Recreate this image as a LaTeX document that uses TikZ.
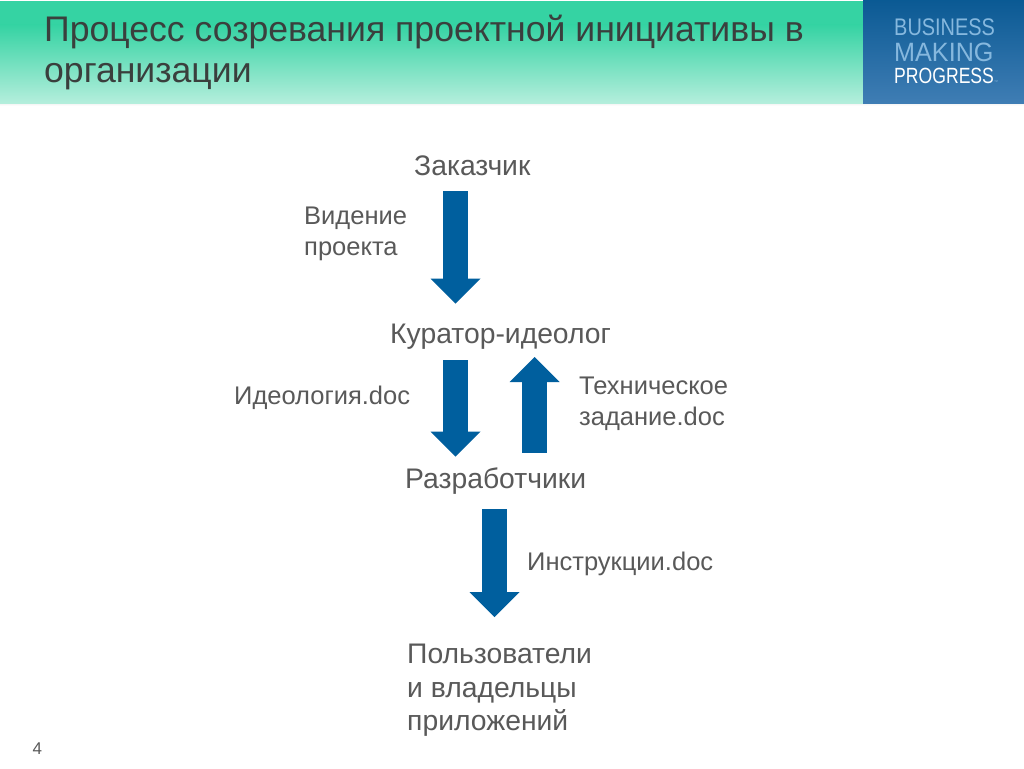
\documentclass[tikz,border=0pt]{standalone}
\usepackage{fontspec}
\setmainfont{Liberation Sans}
\usetikzlibrary{arrows.meta}
\definecolor{bodytext}{HTML}{595959}
\definecolor{titletext}{HTML}{3A3F3D}
\definecolor{arrowblue}{HTML}{005F9E}
\definecolor{bandtop}{HTML}{35D3A3}
\definecolor{bandbottom}{HTML}{B4EEDC}
\definecolor{logotop}{HTML}{0B5A94}
\definecolor{logobottom}{HTML}{3F7DB4}
\definecolor{logolight}{HTML}{86B8DE}
\tikzset{
  x=1pt,y=-1pt,
  actor/.style={inner sep=0pt,anchor=south west,text=bodytext,font=\fontsize{28.3}{28.3}\selectfont,text height=20pt,text depth=5pt},
  actorlong/.style={inner sep=0pt,anchor=north west,align=left,text=bodytext,font=\fontsize{28.3}{33.5}\selectfont},
  note/.style={inner sep=0pt,anchor=north west,align=left,text=bodytext,font=\fontsize{25.5}{31}\selectfont},
  logotext/.style={inner sep=0pt,anchor=base west},
  blockarrow/.style={draw=arrowblue,line width=25pt,-{Triangle[length=25pt,width=50pt,line width=0pt,fill=arrowblue]}},
}
\begin{document}
\begin{tikzpicture}
\useasboundingbox (0,0) rectangle (1024,768);
\fill[white] (0,0) rectangle (1024,768);
% header band
\shade[top color=black!5,bottom color=white] (0,103) rectangle (1024,106);
\fill[bandtop] (0,1) rectangle (864,25);
\shade[top color=bandtop,bottom color=bandbottom] (0,25) rectangle (864,103);
\shade[top color=logotop,bottom color=logobottom] (863,1) rectangle (1024,103);
\node[inner sep=0pt,anchor=north west,align=left,text=titletext,font=\fontsize{35.6}{41}\selectfont] (title) at (44,15) {Процесс созревания проектной инициативы в\\организации};
\node[logotext,text=logolight,font=\fontsize{24}{24}\selectfont] (logoa) at (894,36) {\scalebox{0.83}[1]{BUSINESS}};
\node[logotext,text=logolight,font=\fontsize{26.5}{26.5}\selectfont] (logob) at (894,61) {\scalebox{0.95}[1]{MAKING}};
\node[logotext,text=white,font=\fontsize{22}{22}\selectfont] (logoc) at (894,83) {\scalebox{0.8}[1]{PROGRESS}};
\node[inner sep=0pt,anchor=base west,text=logolight,font=\fontsize{4}{4}\selectfont] (logotm) at (994,83) {™};
% actors
\node[actor] (zak) at (414,181) {Заказчик};
\node[actor] (kur) at (390,349) {Куратор-идеолог};
\node[actor] (raz) at (405,494) {Разработчики};
\node[actorlong] (pol) at (407,644) {Пользователи\\и владельцы\\приложений};
% notes
\node[note] (vid) at (304,206.5) {Видение\\проекта};
\node[note] (ideo) at (234,386) {Идеология.doc};
\node[note] (tex) at (579,377) {Техническое\\задание.doc};
\node[note] (ins) at (527,552) {Инструкции.doc};
% arrows
\draw[blockarrow] ([shift={(41.5,10)}]zak.south west) -- ([shift={(65.5,-20)}]kur.north west);
\draw[blockarrow] ([shift={(65.5,11)}]kur.south west) -- ([shift={(50.5,-12)}]raz.north west);
\draw[blockarrow] ([shift={(129.5,-16)}]raz.north west) -- ([shift={(144.5,8)}]kur.south west);
\draw[blockarrow] ([shift={(89.5,15)}]raz.south west) -- ([shift={(87.5,-27)}]pol.north west);
\node[inner sep=0pt,anchor=base west,text=bodytext,font=\fontsize{17}{17}\selectfont] (num) at (32.5,754) {4};
\end{tikzpicture}
\end{document}
